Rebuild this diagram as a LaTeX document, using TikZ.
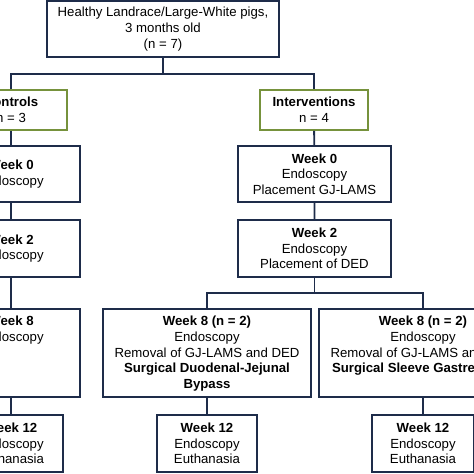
\documentclass[tikz,border=0pt]{standalone}
\usepackage{fontspec}
\setmainfont{Liberation Sans}
\usetikzlibrary{positioning}
\definecolor{navy}{RGB}{30,44,74}
\definecolor{olive}{RGB}{118,146,60}

\begin{document}
\begin{tikzpicture}[x=1pt, y=-1pt,
	every node/.style={font=\fontsize{13.2}{15.6}\selectfont, align=center, inner sep=0pt},
	box/.style={draw=navy, line width=1.9pt, fill=white},
	group/.style={draw=olive, line width=1.9pt, fill=white},
	link/.style={draw=navy, line width=1.9pt}]
	% 474 x 474, y runs downwards
	\useasboundingbox (0,0) rectangle (474,474);
	\clip (0,0) rectangle (474,474);
	
	% animals
	\node[box, minimum width=232, minimum height=56] (pigs) at (163,29)
		{Healthy Landrace/Large-White pigs,\\3 months old\\(n = 7)};
	
	% groups
	\node[group, minimum width=112, minimum height=40] (ctrl) at (11,110)
		{\textbf{Controls}\\n = 3};
	\node[group, minimum width=108, minimum height=40] (intv) at (314,110)
		{\textbf{Interventions}\\n = 4};
	
	% controls
	\node[box, minimum width=138, minimum height=56] (lw0) at (11,174)
		{\textbf{Week 0}\\Endoscopy};
	\node[box, minimum width=138, minimum height=57] (lw2) at (11,248.5)
		{\textbf{Week 2}\\Endoscopy};
	\node[box, minimum width=138, minimum height=88] (lw8) at (11,353) {};
	\node[below=8pt of lw8.north] (lw8txt) {\textbf{Week 8}\\Endoscopy};
	\node[box, minimum width=104, minimum height=57] (lw12) at (11,443.5)
		{\textbf{Week 12}\\Endoscopy\\Euthanasia};
	
	% interventions
	\node[box, minimum width=153, minimum height=56] (rw0) at (314.5,174)
		{\textbf{Week 0}\\Endoscopy\\Placement GJ-LAMS};
	\node[box, minimum width=153, minimum height=57] (rw2) at (314.5,248.5)
		{\textbf{Week 2}\\Endoscopy\\Placement of DED};
	
	\node[box, minimum width=208, minimum height=88] (dj8) at (207,353) {};
	\node[below=8pt of dj8.north] (dj8txt)
		{\textbf{Week 8 (n = 2)}\\Endoscopy\\Removal of GJ-LAMS and DED\\
		 \textbf{Surgical Duodenal-Jejunal}\\\textbf{Bypass}};
	\node[box, minimum width=100, minimum height=57] (dj12) at (207,443.5)
		{\textbf{Week 12}\\Endoscopy\\Euthanasia};
	
	\node[box, minimum width=208, minimum height=88] (sg8) at (423,353) {};
	\node[below=8pt of sg8.north] (sg8txt)
		{\textbf{Week 8 (n = 2)}\\Endoscopy\\Removal of GJ-LAMS and DED\\
		 \textbf{Surgical Sleeve Gastrectomy}};
	\node[box, minimum width=102, minimum height=57] (sg12) at (423,443.5)
		{\textbf{Week 12}\\Endoscopy\\Euthanasia};
	
	% connectors
	\draw[link] (pigs.south) -- ++(0,16) coordinate (split);
	\draw[link] (ctrl.north) |- (split) -| (intv.north);
	\draw[link] (ctrl) -- (lw0) -- (lw2) -- (lw8) -- (lw12);
	\draw[link] (intv) -- (rw0) -- (rw2);
	\draw[link] (rw2.south) -- ++(0,15) coordinate (fork);
	\draw[link] (dj8.north) |- (fork) -| (sg8.north);
	\draw[link] (dj8) -- (dj12);
	\draw[link] (sg8) -- (sg12);
\end{tikzpicture}
\end{document}
